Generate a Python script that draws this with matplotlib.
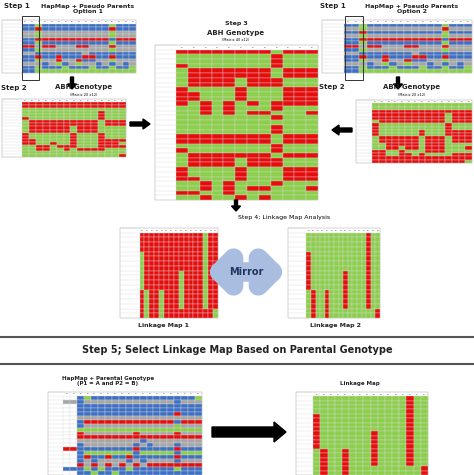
import matplotlib
matplotlib.use("Agg")
import matplotlib.pyplot as plt
import numpy as np
from matplotlib.patches import Rectangle, FancyArrow, FancyArrowPatch

# ---- data (A = red, B = green, b = blue, r = red, g = green, k = gray) ----
hapmap1 = [
    "bbgbbbbbbbbbbgbbb",
    "bbrbbbbbbbbbbrbbb",
    "kkgkkkkkkkkkkgkkk",
    "kkgkkkkkkkkkkgkkk",
    "bbrrrrrrrrrrrbrrr",
    "bbgbbbbbbbbbbgbbb",
    "rrkrrkkkrrkkkrkkk",
    "bbgkkkkkkkkkkgkkk",
    "kkbbbbbbbkbbbbbbb",
    "bbrbbrbbbrrbbrbbb",
    "bbgkkrkkrbbkkgkkk",
    "kkkbkgbkgkkbkbkbk",
    "bbgbbbgbbbgbbgbbg",
    "bbggggggggggggggg",
]
hapmap2 = [
    "bbgbbbbbbbbbbgbbb",
    "kkgkkkkkkkkkkrkkk",
    "bbrbbbbbbbbbbgbbb",
    "kkgkkkkkkkkkkgkkk",
    "bbrrrrrrrrrrrbrrr",
    "bbgbbbbbbbbbbgbbb",
    "rrkrrkkkrrkkkrkkk",
    "bbgkkkkkkkkkkgkkk",
    "kkbbbbbbbkbbbbbbb",
    "bbrbbrbbbrrbbrbbb",
    "bbgkkrkkrbbkkgkkk",
    "kkkbkgbkgkkbkbkbk",
    "bbgbbbgbbbgbbgbbg",
    "bbggggggggggggggg",
]
abh_step2 = [
    "AAAAAAAAAAAAAAA",
    "AAAAAAAAAAAAAAA",
    "BBBBBBBBBBBBBBB",
    "BBBBBBBBBBBABBB",
    "BBBBBBBBBBBABBB",
    "ABBBBBBBBBBABBB",
    "BAAAAAAAAAABAAA",
    "BAAAAAAAAAABAAA",
    "BAAAAAABAAABBBB",
    "BAAAAAABAAABBBB",
    "ABBBBBBABBBABBB",
    "ABBBBBBABBBABBB",
    "AABBBBBABBBAAAA",
    "AABBABBABBBAAAB",
    "BBAABAAABBBAAAA",
    "BBAABBABAAAABBB",
    "BBBBBBBBBBBBBBB",
    "BBBBBBBBBBBBBBA",
]
abh_step2_right = [
    "BBBBBBBBBBBBBBB",
    "BBBBBBBBBBBBBBB",
    "AAAAAAAAAAAAAAA",
    "AAAAAAAAAAABAAA",
    "AAAAAAAAAAABAAA",
    "BAAAAAAAAAABAAA",
    "ABBBBBBBBBBABBB",
    "ABBBBBBBBBBABBB",
    "ABBBBBBABBBAAAA",
    "ABBBBBBABBBAAAA",
    "BAAAAAABAAABAAA",
    "BAAAAAABAAABAAA",
    "BBAAAAABAAABBBB",
    "BBAABAABAAABBBA",
    "AABBABBBAAABBBB",
    "AABBAABABBBBAAA",
    "AAAAAAAAAAAAAAA",
    "AAAAAAAAAAAAAAB",
]
abh_step3 = [
    "AAAAAAAABAAA",
    "BBBBBBBBABBB",
    "BBBBBBBBABBB",
    "ABBBBBBBABBB",
    "BAAAAAAABAAA",
    "BAAAAAAABAAA",
    "BAAAABAAABBB",
    "BAAAABAAABBB",
    "ABBBBABBBAAA",
    "AABBBABBBAAA",
    "AABBBABBBAAA",
    "ABABABABAAAA",
    "BBABABBBABBB",
    "BBABABAABBBA",
    "BBBBBBBBABBB",
    "BBBBBBBBBBBB",
    "BBBBBBBBABBB",
    "BBBBBBBBABBB",
    "AAAAAAAABAAA",
    "AAAAAAAABAAA",
    "BBBBBBBBABBB",
    "ABBBBBBBABBB",
    "BAAAAAAABAAA",
    "BAAAABAAABBB",
    "BAAAABAAABBB",
    "ABBBBABBBAAA",
    "ABBBBABBBAAA",
    "AABBBABBBAAA",
    "BBABABBBABBB",
    "BBABABAABBBA",
    "AABBABBBBBBB",
    "BBABBABABBBB",
]
linkage_map2 = [
    "BBBBBBBBBBBBBABB",
    "BBBBBBBBBBBBBABB",
    "BBBBBBBBBBBBBABB",
    "BBBBBBBBBBBBBABB",
    "ABBBBBBBBBBBBABB",
    "ABBBBBBBBBBBBABB",
    "ABBBBBBBBBBBBABB",
    "ABBBBBBBBBBBBABB",
    "ABBBBBBBABBBBABB",
    "ABBBBBBBABBBBABB",
    "ABBBBBBBABBBBABB",
    "ABBBBBBBABBBBABB",
    "BABBABBBABBBBABB",
    "BABBABBBABBBBABB",
    "BABBABBBABBBBABB",
    "BABBABBBABBBBABB",
    "BABBABBBBBBBBBBA",
    "BABBABBBBBBBBBBA",
]
linkage_map1 = ["".join("B" if c == "A" else "A" for c in r) for r in linkage_map2]
parental = [
    "wwbgbbbbbbbbbbbbbbbg",
    "kkbkkkkkkkkkkkkkbkkk",
    "wwbbbbbbbbbbbbbbbbbb",
    "wwbbbbbbbbbbbbbbbbbb",
    "wwbbbbbbbbbbbbbbrbbb",
    "wwkkkkkkkkkkkkkkkkkk",
    "wwbrrrrrrrrrrrrrbrrr",
    "wwbkkkkkkkkkkkkkgkkk",
    "wwgggggggggggggggggg",
    "wwrkkkkkkkrkkkkkrkkk",
    "wwrrrrrrrrrrrrrrrrrr",
    "wwkkkkkkkkkbkkkkkkkk",
    "wwbkkkkkkkbkbkkkbkkk",
    "rrbbbbbbbbrbbbbbrbbb",
    "wwbgggggggbgggggbggg",
    "wwbrbbrbbrbbbbbbrbbb",
    "wwbkbkkkkbkbkkkkbkkk",
    "wwrkrkrkrkrkrrrrrrrr",
    "bbbgbgbbbgbbbbbbgbbb",
    "wwbbgbbgbbbbbbbbbbbb",
]

COL = {"A": "#e60d0d", "B": "#8ccf4b", "b": "#3d6fc4", "r": "#e60d0d",
       "g": "#8ccf4b", "k": "#a6a6a6", "w": "#ffffff"}

W, H = 474, 475
fig = plt.figure(figsize=(W / 100, H / 100), dpi=100)
ax = fig.add_axes([0, 0, 1, 1])
ax.set_xlim(0, W)
ax.set_ylim(H, 0)
ax.axis("off")


def grid(mat, x0, y0, x1, y1, labw=0.12, lw=0.25):
    nr, nc = len(mat), len(mat[0])
    lx = x0 + (x1 - x0) * labw
    hh = (y1 - y0) / (nr + 1)
    cw = (x1 - lx) / nc
    ax.add_patch(Rectangle((x0, y0), x1 - x0, y1 - y0, fc="white", ec="#999999", lw=0.3))
    for i in range(nr + 1):
        ax.plot([x0, lx], [y0 + i * hh, y0 + i * hh], color="#cccccc", lw=0.2)
    for j in range(nc):
        ax.text(lx + (j + 0.5) * cw, y0 + hh / 2, "PH", fontsize=1.4,
                ha="center", va="center", color="#333333")
        for i in range(nr):
            ax.add_patch(Rectangle((lx + j * cw, y0 + (i + 1) * hh), cw, hh,
                                   fc=COL[mat[i][j]], ec="#d9d9d9", lw=lw))


def bold(x, y, s, fs=6):
    ax.text(x, y, s, fontsize=fs, fontweight="bold", ha="center", va="center", color="#222222")


# Step 1 left & right
bold(17, 6, "Step 1", 5)
bold(88, 9, "HapMap + Pseudo Parents\nOption 1", 4.5)
grid(hapmap1, 2, 20, 136, 73, labw=0.15)
ax.add_patch(Rectangle((22, 16), 17, 64, fill=False, ec="#333333", lw=0.7))
bold(333, 6, "Step 1", 5)
bold(412, 9, "HapMap + Pseudo Parents\nOption 2", 4.5)
grid(hapmap2, 322, 20, 472, 73, labw=0.15)
ax.add_patch(Rectangle((345, 16), 18, 64, fill=False, ec="#333333", lw=0.7))

# down arrows
for x in (72, 398):
    ax.add_patch(FancyArrow(x, 77, 0, 7, width=3, head_width=9, head_length=5, color="black"))

# Step 2 left & right
bold(14, 88, "Step 2", 5)
bold(84, 87, "ABH Genotype", 5)
ax.text(84, 95, "(Matrix 20 x12)", fontsize=2.5, ha="center", va="center")
grid(abh_step2, 2, 99, 126, 157, labw=0.16)
bold(332, 87, "Step 2", 5)
bold(412, 87, "ABH Genotype", 5)
ax.text(412, 95, "(Matrix 20 x12)", fontsize=2.5, ha="center", va="center")
grid(abh_step2_right, 356, 100, 472, 163, labw=0.14)

# horizontal arrows to step 3
ax.add_patch(FancyArrow(130, 124, 13, 0, width=4, head_width=10, head_length=7, color="black"))
ax.add_patch(FancyArrow(352, 130, -13, 0, width=4, head_width=10, head_length=7, color="black"))

# Step 3
bold(236, 24, "Step 3", 4.5)
bold(236, 33, "ABH Genotype", 5)
ax.text(236, 40, "(Matrix 40 x12)", fontsize=2.5, ha="center", va="center")
grid(abh_step3, 155, 45, 318, 200, labw=0.13)

# Step 4
ax.add_patch(FancyArrow(236, 200, 0, 6, width=3, head_width=9, head_length=5, color="black"))
ax.text(238, 217, "Step 4; Linkage Map Analysis", fontsize=4.5, ha="left", va="center")
grid(linkage_map1, 120, 228, 218, 318, labw=0.2)
bold(164, 326, "Linkage Map 1", 4.5)
grid(linkage_map2, 288, 228, 380, 318, labw=0.2)
bold(336, 326, "Linkage Map 2", 4.5)
ax.add_patch(FancyArrowPatch((206, 272), (286, 272), arrowstyle="<|-|>,head_length=10,head_width=10",
                             mutation_scale=1, lw=14, color="#a9bde0", shrinkA=0, shrinkB=0))
ax.text(246, 272, "Mirror", fontsize=7, fontweight="bold", ha="center", va="center", color="#1f3763")

# Step 5 band
ax.plot([0, W], [337, 337], color="#555555", lw=1.5)
ax.plot([0, W], [364, 364], color="#555555", lw=1.5)
bold(237, 350, "Step 5; Select Linkage Map Based on Parental Genotype", 7)

bold(108, 381, "HapMap + Parental Genotype\n(P1 = A and P2 = B)", 4)
grid(parental, 48, 392, 202, 475, labw=0.1)
ax.add_patch(FancyArrow(212, 432, 62, 0, width=10, head_width=20, head_length=12, color="black"))
bold(360, 383, "Linkage Map", 4)
grid(linkage_map2, 296, 392, 428, 475, labw=0.13)

fig.savefig("out.png", dpi=100)
